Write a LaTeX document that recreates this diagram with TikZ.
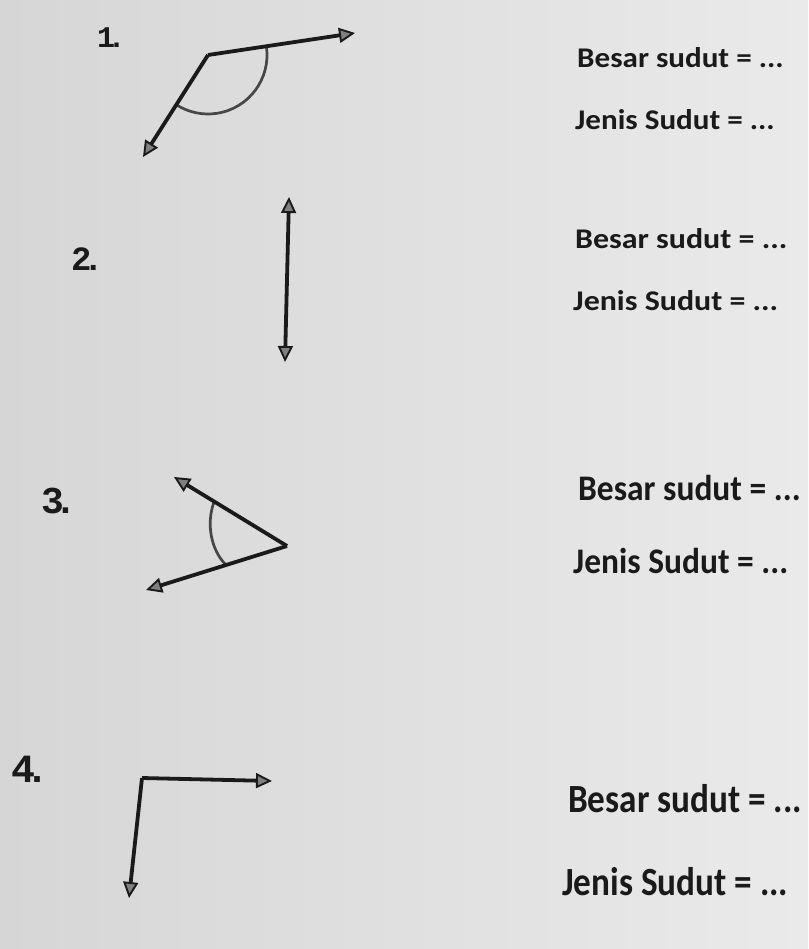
\documentclass[tikz,border=0pt]{standalone}
\usepackage{fontspec}
\setmainfont{Carlito}
\newfontfamily\numfont{Liberation Mono}
\usetikzlibrary{arrows.meta}
\definecolor{paperL}{RGB}{214,214,214}
\definecolor{paperR}{RGB}{234,234,234}
\definecolor{ink}{RGB}{26,26,26}
\definecolor{headfill}{RGB}{128,128,128}
\definecolor{arcink}{RGB}{70,70,70}
\newcommand{\numlbl}[1]{#1\kern-0.25em.}
\begin{document}
\begin{tikzpicture}[x=1pt,y=-1pt,
  head/.tip={Triangle[length=16pt,width=15pt,line width=1.9pt,fill=headfill]},
  ray/.style={draw=ink,line width=3.8pt,line join=round},
  anglearc/.style={draw=arcink,line width=2.7pt},
  txt/.style={anchor=base west,inner sep=0pt,text=ink},
  num/.style={anchor=base west,inner sep=0pt,text=ink}]
\useasboundingbox (0,0) rectangle (808,949);
\shade[left color=paperL,right color=paperR] (0,0) rectangle (808,949);

% ---------- 1 ----------
\node[num,font=\numfont\bfseries\fontsize{30}{30}\selectfont] (n1) at (97,48) {\numlbl{1}};
\coordinate (v1) at (208,55);
\coordinate (a1) at (355,33);
\coordinate (b1) at (143,157);
\draw[anglearc] (v1) ++(-8.5:59) arc[start angle=-8.5,end angle=122.5,radius=59];
\draw[ray,-head] (v1) -- (a1);
\draw[ray,-head] (v1) -- (b1);
\node[txt,font=\bfseries\fontsize{28.5}{30}\selectfont] (s1) at (577,68) {\scalebox{1.09}[1]{Besar sudut = ...}};
\node[txt,font=\bfseries\fontsize{28.5}{30}\selectfont] (j1) at (575,130) {\scalebox{1.09}[1]{Jenis Sudut = ...}};

% ---------- 2 ----------
\node[num,font=\numfont\bfseries\fontsize{34}{34}\selectfont] (n2) at (71,270) {\numlbl{2}};
\coordinate (a2) at (289,197);
\coordinate (b2) at (285,362);
\draw[ray,head-head] (a2) -- (b2);
\node[txt,font=\bfseries\fontsize{28.5}{30}\selectfont] (s2) at (575,249) {\scalebox{1.12}[1]{Besar sudut = ...}};
\node[txt,font=\bfseries\fontsize{28.5}{30}\selectfont] (j2) at (573,310) {\scalebox{1.12}[1]{Jenis Sudut = ...}};

% ---------- 3 ----------
\node[num,font=\numfont\bfseries\fontsize{38}{38}\selectfont] (n3) at (41,513) {\numlbl{3}};
\coordinate (v3) at (287,546);
\coordinate (a3) at (174,477);
\coordinate (b3) at (146,590);
\draw[anglearc] (214,502) .. controls (206,524) and (211,550) .. (226,565);
\draw[ray,-head] (v3) -- (a3);
\draw[ray,-head] (v3) -- (b3);
\node[txt,font=\bfseries\fontsize{36}{36}\selectfont] (s3) at (578,500) {\scalebox{0.93}[1]{Besar sudut = ...}};
\node[txt,font=\bfseries\fontsize{36}{36}\selectfont] (j3) at (573,573) {\scalebox{0.93}[1]{Jenis Sudut = ...}};

% ---------- 4 ----------
\node[num,font=\numfont\bfseries\fontsize{40}{40}\selectfont] (n4) at (11,782) {\numlbl{4}};
\coordinate (v4) at (142,778);
\coordinate (a4) at (272,781);
\coordinate (b4) at (129,898);
\draw[ray,-head] (v4) -- (a4);
\draw[ray,-head] (v4) -- (b4);
\node[txt,font=\bfseries\fontsize{40}{40}\selectfont] (s4) at (568,812) {\scalebox{0.88}[1]{Besar sudut = ...}};
\node[txt,font=\bfseries\fontsize{40}{40}\selectfont] (j4) at (562,895) {\scalebox{0.88}[1]{Jenis Sudut = ...}};
\end{tikzpicture}
\end{document}
